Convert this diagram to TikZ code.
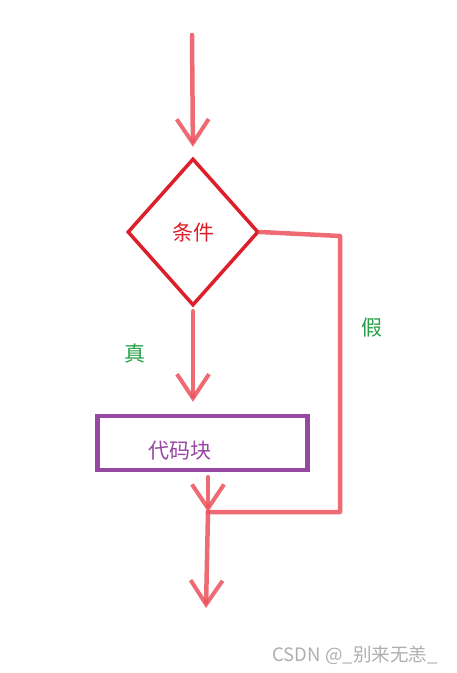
\documentclass[tikz,border=0pt]{standalone}
\usepackage{fontspec}
\setmainfont{Noto Sans CJK SC}
\usetikzlibrary{shapes.geometric,arrows.meta}
\definecolor{flowred}{RGB}{236,82,92}
\definecolor{diared}{RGB}{222,30,40}
\definecolor{boxpurple}{RGB}{150,72,162}
\definecolor{labgreen}{RGB}{40,160,70}
\definecolor{wmgray}{RGB}{175,175,175}
\tikzset{
  flow/.style={draw=flowred, line width=4.5pt, opacity=0.85, line join=round, line cap=round},
  flowarrow/.style={flow, -{Straight Barb[length=24pt, width=32pt, line width=4pt]}},
  decision/.style={diamond, draw=diared, line width=3.5pt, minimum width=131pt, minimum height=147pt, inner sep=0pt, text=diared, font=\fontsize{21}{24}\selectfont},
  codebox/.style={rectangle, draw=boxpurple, line width=4.5pt, minimum width=210pt, minimum height=54pt, inner sep=0pt},
  lab/.style={text=labgreen, font=\fontsize{21}{24}\selectfont},
}
\begin{document}
\begin{tikzpicture}[x=1pt,y=-1pt]
\useasboundingbox (0,0) rectangle (456,673);
\fill[white] (0,0) rectangle (456,673);
\coordinate (start) at (192,35);
\node[decision] (cond) at (193,232) {条件};
\node[codebox] (code) at (202.5,443) {};
\node[text=boxpurple, font=\fontsize{21}{24}\selectfont] (codetxt) at (180,451) {代码块};
\coordinate (corner1) at (340,236);
\coordinate (corner2) at (340,512);
\coordinate (merge) at (208,512);
\coordinate (finish) at (206,608);
\node[lab] (yes) at (135,353) {真};
\node[lab] (no) at (372,328) {假};
\node[text=wmgray, font=\fontsize{18.5}{21}\selectfont] (wm) at (355,655) {CSDN @\_别来无恙\_};
\draw[flowarrow, shorten >=10pt] (start) -- (cond.north);
\draw[flowarrow, shorten <=4pt, shorten >=12pt] (cond.south) -- (cond.south |- code.north);
\draw[flow] (cond.east) -- (corner1) -- (corner2) -- (merge);
\draw[flowarrow, shorten <=5pt] (code.south -| merge) -- (merge);
\draw[flowarrow] (merge) -- (finish);
\end{tikzpicture}
\end{document}
